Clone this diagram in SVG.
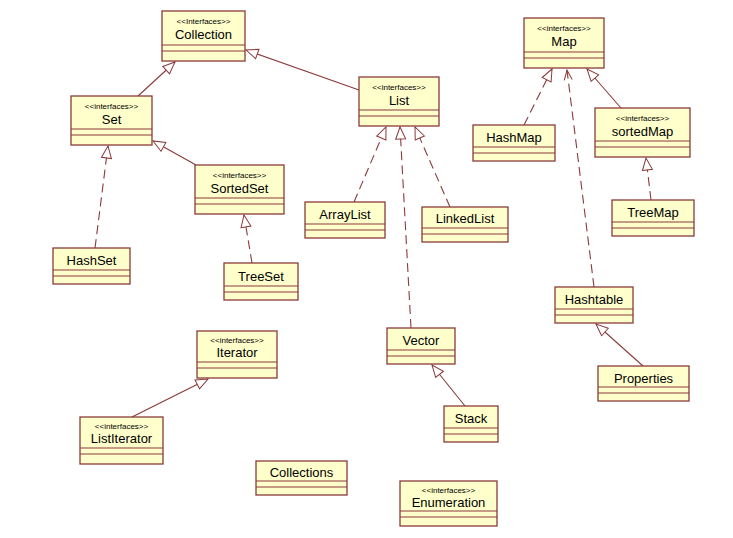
<svg xmlns="http://www.w3.org/2000/svg" width="733" height="538" viewBox="0 0 733 538">
<style>
.b{fill:#ffffcc;stroke:#8b3a3a;stroke-width:1.3}
.l{stroke:#8b3a3a;stroke-width:1.2}
.n{font-family:"Liberation Sans",Arial,sans-serif;font-size:13px;fill:#000;text-anchor:middle}
.s{font-family:"Liberation Sans",Arial,sans-serif;font-size:8px;fill:#000;text-anchor:middle}
.c{stroke:#8b3a3a;stroke-width:1.1;fill:none}
.d{stroke-dasharray:9,5}
</style>
<defs>
<marker id="tri" markerWidth="14" markerHeight="14" refX="13" refY="6" orient="auto" markerUnits="userSpaceOnUse">
<path d="M1,1 L13,6 L1,11 Z" fill="#fff" stroke="#8b3a3a" stroke-width="1"/>
</marker>
<marker id="open" markerWidth="12" markerHeight="12" refX="11" refY="5" orient="auto" markerUnits="userSpaceOnUse">
<path d="M1,1 L11,5 L1,9" fill="none" stroke="#8b3a3a" stroke-width="1"/>
</marker>
</defs>
<rect width="733" height="538" fill="#fff"/>
<g id="connectors">
<line class="c" x1="138" y1="96" x2="175" y2="62" marker-end="url(#tri)"/>
<line class="c" x1="359" y1="90" x2="246" y2="50" marker-end="url(#tri)"/>
<line class="c" x1="196" y1="165" x2="153" y2="141" marker-end="url(#tri)"/>
<line class="c d" x1="95" y1="248" x2="108" y2="146" marker-end="url(#tri)"/>
<line class="c d" x1="252" y1="263" x2="244" y2="215" marker-end="url(#tri)"/>
<line class="c d" x1="354" y1="202" x2="386" y2="127" marker-end="url(#tri)"/>
<line class="c d" x1="411" y1="328" x2="400" y2="127" marker-end="url(#tri)"/>
<line class="c d" x1="450" y1="207" x2="415" y2="127" marker-end="url(#tri)"/>
<line class="c" x1="465" y1="406" x2="432" y2="365" marker-end="url(#tri)"/>
<line class="c d" x1="524" y1="125" x2="552" y2="69" marker-end="url(#tri)"/>
<line class="c" x1="621" y1="108" x2="587" y2="69" marker-end="url(#tri)"/>
<line class="c d" x1="651" y1="200" x2="646" y2="158" marker-end="url(#tri)"/>
<line class="c d" x1="594" y1="287" x2="567" y2="70" marker-end="url(#open)"/>
<line class="c" x1="643" y1="366" x2="596" y2="324" marker-end="url(#tri)"/>
<line class="c" x1="132" y1="417" x2="208" y2="379" marker-end="url(#tri)"/>
</g>
<g id="Collection"><rect class="b" x="162" y="11" width="83" height="50"/><line class="l" x1="162" y1="45" x2="245" y2="45"/><line class="l" x1="162" y1="51" x2="245" y2="51"/><text class="s" x="203.5" y="24">&lt;&lt;Interfaces&gt;&gt;</text><text class="n" x="203.5" y="39">Collection</text></g>
<g id="Set"><rect class="b" x="71" y="96" width="81" height="49"/><line class="l" x1="71" y1="129" x2="152" y2="129"/><line class="l" x1="71" y1="135" x2="152" y2="135"/><text class="s" x="111.5" y="109">&lt;&lt;interfaces&gt;&gt;</text><text class="n" x="111.5" y="124">Set</text></g>
<g id="List"><rect class="b" x="359" y="77" width="80" height="49"/><line class="l" x1="359" y1="110" x2="439" y2="110"/><line class="l" x1="359" y1="116" x2="439" y2="116"/><text class="s" x="399" y="90">&lt;&lt;interfaces&gt;&gt;</text><text class="n" x="399" y="105">List</text></g>
<g id="SortedSet"><rect class="b" x="195" y="165" width="89" height="49"/><line class="l" x1="195" y1="198" x2="284" y2="198"/><line class="l" x1="195" y1="204" x2="284" y2="204"/><text class="s" x="239.5" y="178">&lt;&lt;interfaces&gt;&gt;</text><text class="n" x="239.5" y="193">SortedSet</text></g>
<g id="ArrayList"><rect class="b" x="305" y="202" width="80" height="36"/><line class="l" x1="305" y1="224" x2="385" y2="224"/><line class="l" x1="305" y1="230" x2="385" y2="230"/><text class="n" x="345" y="219">ArrayList</text></g>
<g id="LinkedList"><rect class="b" x="422" y="207" width="86" height="35"/><line class="l" x1="422" y1="228" x2="508" y2="228"/><line class="l" x1="422" y1="234" x2="508" y2="234"/><text class="n" x="465" y="223">LinkedList</text></g>
<g id="HashSet"><rect class="b" x="53" y="248" width="77" height="36"/><line class="l" x1="53" y1="270" x2="130" y2="270"/><line class="l" x1="53" y1="276" x2="130" y2="276"/><text class="n" x="91.5" y="265">HashSet</text></g>
<g id="TreeSet"><rect class="b" x="224" y="263" width="74" height="37"/><line class="l" x1="224" y1="286" x2="298" y2="286"/><line class="l" x1="224" y1="292" x2="298" y2="292"/><text class="n" x="261" y="281">TreeSet</text></g>
<g id="Map"><rect class="b" x="524" y="18" width="80" height="50"/><line class="l" x1="524" y1="52" x2="604" y2="52"/><line class="l" x1="524" y1="58" x2="604" y2="58"/><text class="s" x="564" y="31">&lt;&lt;interfaces&gt;&gt;</text><text class="n" x="564" y="46">Map</text></g>
<g id="HashMap"><rect class="b" x="473" y="125" width="82" height="36"/><line class="l" x1="473" y1="147" x2="555" y2="147"/><line class="l" x1="473" y1="153" x2="555" y2="153"/><text class="n" x="514" y="142">HashMap</text></g>
<g id="sortedMap"><rect class="b" x="595" y="108" width="95" height="49"/><line class="l" x1="595" y1="141" x2="690" y2="141"/><line class="l" x1="595" y1="147" x2="690" y2="147"/><text class="s" x="642.5" y="121">&lt;&lt;interfaces&gt;&gt;</text><text class="n" x="642.5" y="136">sortedMap</text></g>
<g id="TreeMap"><rect class="b" x="612" y="200" width="82" height="36"/><line class="l" x1="612" y1="222" x2="694" y2="222"/><line class="l" x1="612" y1="228" x2="694" y2="228"/><text class="n" x="653" y="217">TreeMap</text></g>
<g id="Hashtable"><rect class="b" x="555" y="287" width="78" height="36"/><line class="l" x1="555" y1="309" x2="633" y2="309"/><line class="l" x1="555" y1="315" x2="633" y2="315"/><text class="n" x="594" y="304">Hashtable</text></g>
<g id="Properties"><rect class="b" x="598" y="366" width="91" height="35"/><line class="l" x1="598" y1="387" x2="689" y2="387"/><line class="l" x1="598" y1="393" x2="689" y2="393"/><text class="n" x="643.5" y="383">Properties</text></g>
<g id="Vector"><rect class="b" x="387" y="328" width="68" height="36"/><line class="l" x1="387" y1="350" x2="455" y2="350"/><line class="l" x1="387" y1="356" x2="455" y2="356"/><text class="n" x="421" y="345">Vector</text></g>
<g id="Stack"><rect class="b" x="444" y="406" width="54" height="36"/><line class="l" x1="444" y1="428" x2="498" y2="428"/><line class="l" x1="444" y1="434" x2="498" y2="434"/><text class="n" x="471" y="423">Stack</text></g>
<g id="Iterator"><rect class="b" x="197" y="331" width="80" height="47"/><line class="l" x1="197" y1="362" x2="277" y2="362"/><line class="l" x1="197" y1="368" x2="277" y2="368"/><text class="s" x="237" y="343">&lt;&lt;interfaces&gt;&gt;</text><text class="n" x="237" y="357">Iterator</text></g>
<g id="ListIterator"><rect class="b" x="80" y="417" width="83" height="47"/><line class="l" x1="80" y1="448" x2="163" y2="448"/><line class="l" x1="80" y1="454" x2="163" y2="454"/><text class="s" x="121.5" y="429">&lt;&lt;interfaces&gt;&gt;</text><text class="n" x="121.5" y="443">ListIterator</text></g>
<g id="Collections"><rect class="b" x="256" y="461" width="91" height="34"/><line class="l" x1="256" y1="481" x2="347" y2="481"/><line class="l" x1="256" y1="487" x2="347" y2="487"/><text class="n" x="301.5" y="477">Collections</text></g>
<g id="Enumeration"><rect class="b" x="400" y="481" width="97" height="45"/><line class="l" x1="400" y1="511" x2="497" y2="511"/><line class="l" x1="400" y1="517" x2="497" y2="517"/><text class="s" x="448.5" y="493">&lt;&lt;interfaces&gt;&gt;</text><text class="n" x="448.5" y="507">Enumeration</text></g>
</svg>
